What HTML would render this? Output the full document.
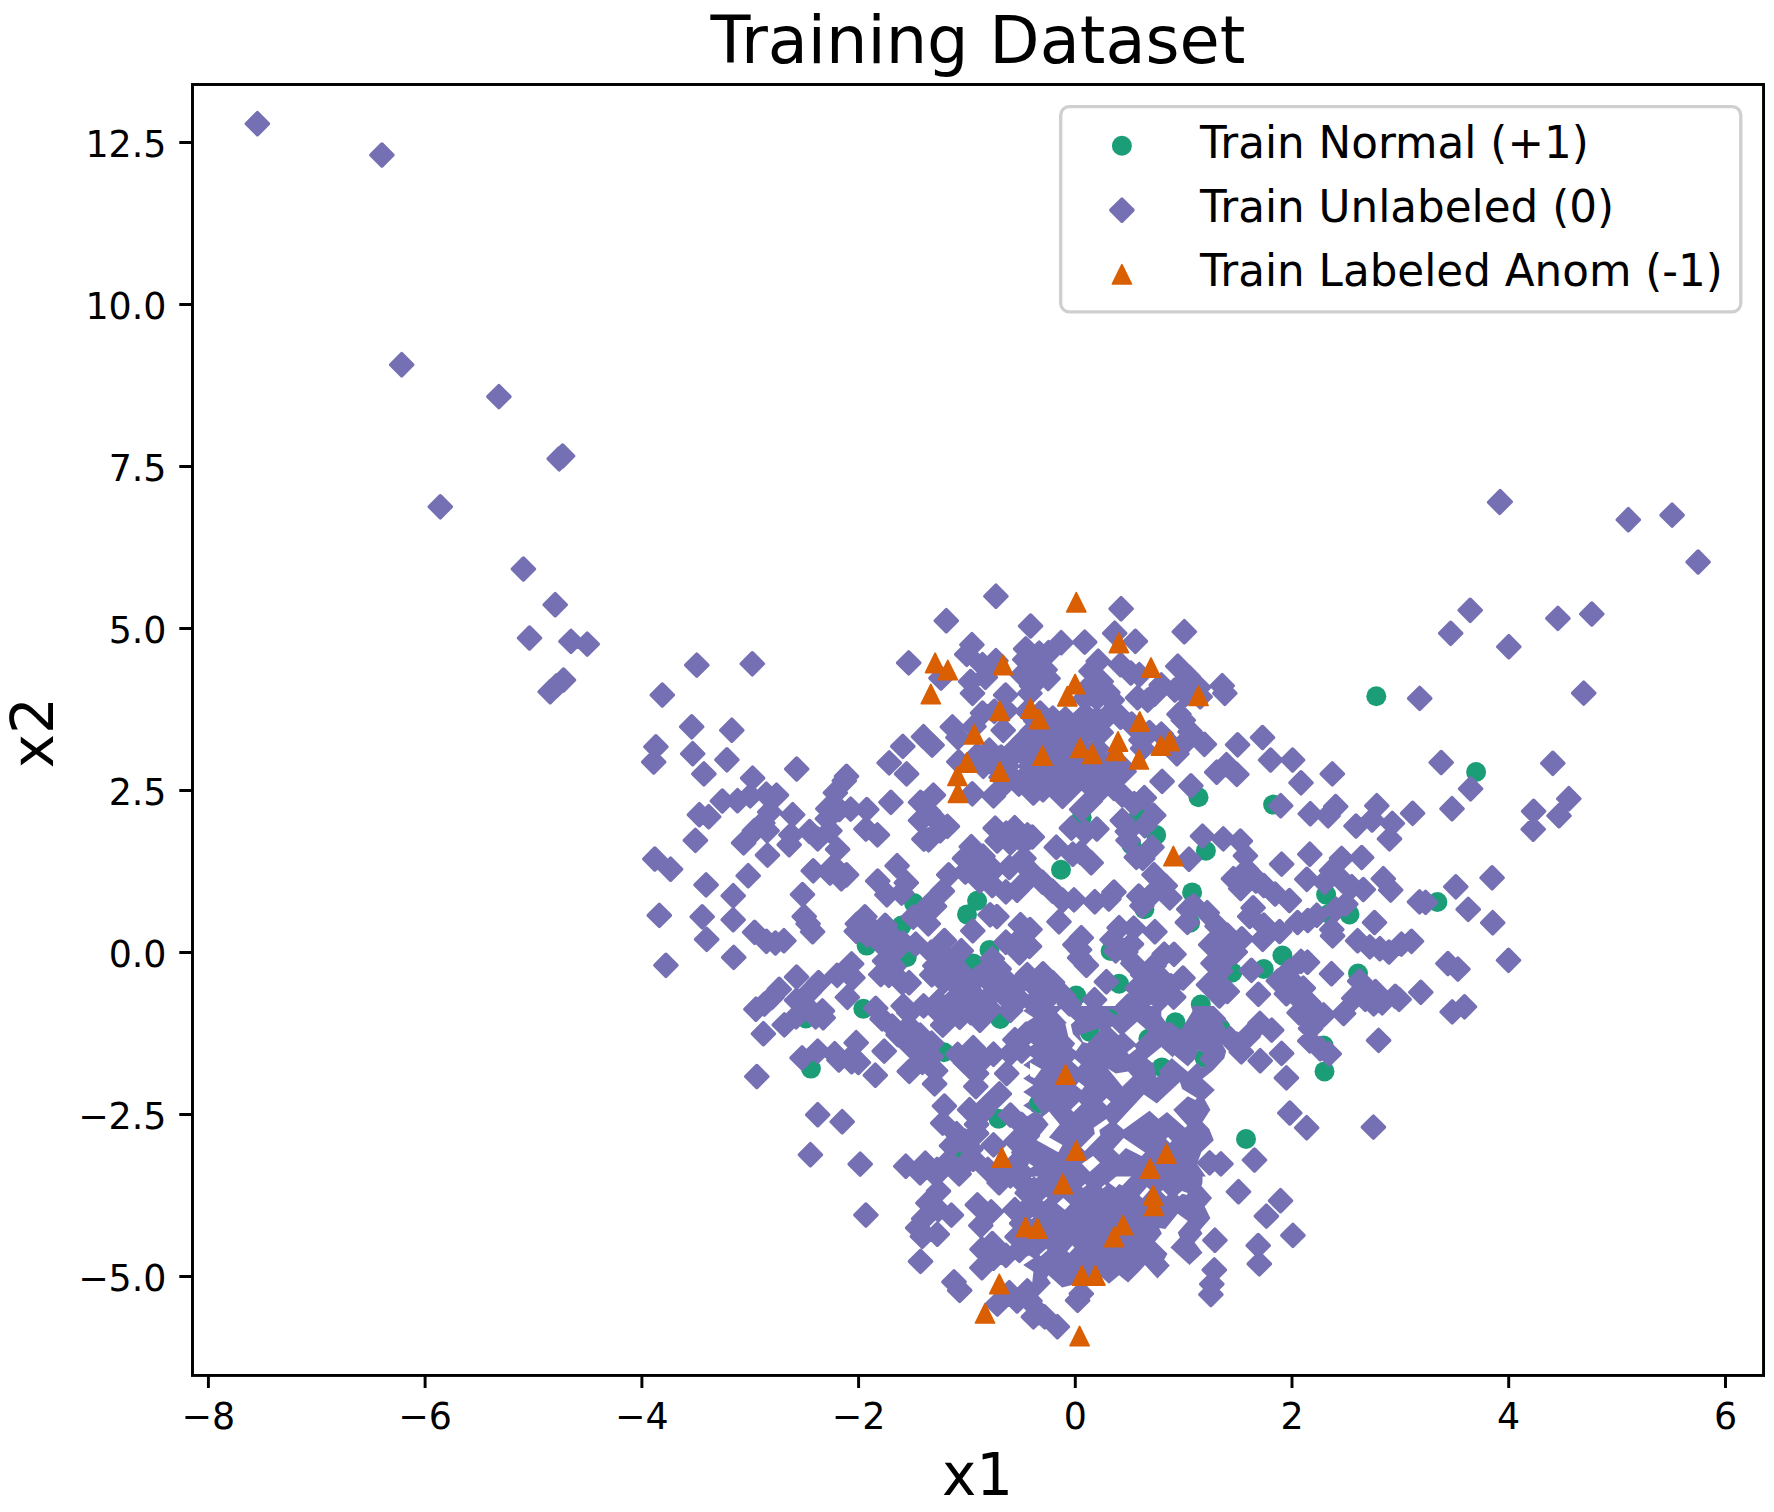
<!DOCTYPE html><html><head><meta charset="utf-8"><title>Training Dataset</title><style>html,body{margin:0;padding:0;background:#fff}</style></head><body><svg width="1774" height="1512" viewBox="0 0 1774 1512" style="display:block">
<rect width="1774" height="1512" fill="#fff"/>
<defs><clipPath id="c"><rect x="192.5" y="84.5" width="1571.05" height="1290.95"/></clipPath></defs>
<g clip-path="url(#c)">
<g fill="#1b9e77"><circle cx="1476.1" cy="772" r="10"/><circle cx="1198.5" cy="797.3" r="10"/><circle cx="1138.4" cy="817.2" r="10"/><circle cx="1156.2" cy="835" r="10"/><circle cx="1081.7" cy="817.2" r="10"/><circle cx="1376.3" cy="696.3" r="10"/><circle cx="1273.1" cy="804.6" r="10"/><circle cx="977.1" cy="900.8" r="10"/><circle cx="967" cy="914.4" r="10"/><circle cx="914" cy="903.1" r="10"/><circle cx="901.6" cy="925.6" r="10"/><circle cx="866.6" cy="945.6" r="10"/><circle cx="906.7" cy="957.2" r="10"/><circle cx="989.5" cy="949.9" r="10"/><circle cx="973.2" cy="963.4" r="10"/><circle cx="1061" cy="869.8" r="10"/><circle cx="1205.9" cy="850.7" r="10"/><circle cx="1192.1" cy="892.4" r="10"/><circle cx="1144.4" cy="909.3" r="10"/><circle cx="1190.1" cy="922.8" r="10"/><circle cx="1110.6" cy="951" r="10"/><circle cx="1119.1" cy="983.7" r="10"/><circle cx="1076.2" cy="995.5" r="10"/><circle cx="1200.8" cy="1004.5" r="10"/><circle cx="1131.5" cy="845" r="10"/><circle cx="1326.1" cy="894.6" r="10"/><circle cx="1349.5" cy="914.4" r="10"/><circle cx="1329" cy="913.8" r="10"/><circle cx="1282.4" cy="955.5" r="10"/><circle cx="1263.8" cy="969" r="10"/><circle cx="1232.3" cy="972.4" r="10"/><circle cx="1358" cy="973.5" r="10"/><circle cx="1437.4" cy="902" r="10"/><circle cx="810.9" cy="1068.6" r="10"/><circle cx="805.9" cy="1018.4" r="10"/><circle cx="863.3" cy="1008.8" r="10"/><circle cx="972.6" cy="1007.1" r="10"/><circle cx="1000.2" cy="1019" r="10"/><circle cx="943.9" cy="1052.2" r="10"/><circle cx="998.5" cy="1118.7" r="10"/><circle cx="956.3" cy="1158.8" r="10"/><circle cx="1175.4" cy="1022.3" r="10"/><circle cx="1161.9" cy="1067.4" r="10"/><circle cx="1204.7" cy="1057.9" r="10"/><circle cx="1220.5" cy="1028" r="10"/><circle cx="1089.8" cy="1031.9" r="10"/><circle cx="1108.9" cy="1017.3" r="10"/><circle cx="1148.4" cy="1038.7" r="10"/><circle cx="1038.5" cy="1104.1" r="10"/><circle cx="1324.5" cy="1071.4" r="10"/><circle cx="1323.6" cy="1045.5" r="10"/><circle cx="1246" cy="1139" r="10"/><circle cx="1181.1" cy="1174.9" r="10"/></g>
<mask id="m0" maskUnits="userSpaceOnUse" x="1010" y="986" width="240" height="210"><rect x="1010" y="986" width="240" height="210" fill="#fff"/><path d="M1057.1 1012.8L1061.6 1008.3L1075.1 1020.7L1069.5 1025.7zM1124.7 1033.1L1137.1 1021.8L1148.4 1031.4L1136 1043.8zM1161.3 1006L1192.3 1006L1192.3 1011.6L1181.1 1029.7L1169.8 1021.8L1166.4 1022.9L1161.3 1016.1zM1147.2 1058.4L1161.3 1047.1L1172.6 1057.3L1158.5 1071.4L1160.8 1073.6L1156.8 1077.6L1155.1 1073.6L1154 1062.4L1151.8 1062.4zM1198 1050L1203.6 1053.4L1199.1 1059L1205.9 1065.8L1201.4 1067.4L1195.2 1059zM1221.7 1020.7L1230 1025.2L1230 1031.9L1227.3 1031.9zM1079.6 1035.3L1097.6 1028.5L1099.9 1030.2L1087.5 1043.2L1083 1042.1zM1107.8 1009.4L1113.4 1009.4L1117.9 1013.9L1115.7 1015.6zM1030 1097.3L1041.3 1112L1040.1 1114.2L1030 1107.5zM1107.8 1068.6L1115.7 1073.6L1128.1 1071.4L1132.6 1076.5L1122.4 1086.6zM1116.8 1123.8L1143.9 1094.5L1156.8 1103.5L1179.9 1082.1L1182.2 1088.9L1196.9 1097.9L1195.2 1100.1L1187.8 1096.2L1173.2 1109.7L1187.3 1125.5L1185 1127.8L1167 1112L1158.5 1118.7L1149.5 1110.8L1123.6 1129.4zM1030 1062.4L1041.3 1069.1L1034.5 1078.2L1030 1075.9zM1102.7 1101.8L1106.7 1097.9L1110.6 1101.8L1106.7 1105.8zM1081.9 1163.8L1093.1 1155.9L1099.9 1162.7L1089.8 1171.7zM1113.4 1149.2L1123.6 1137.9L1145 1152.6L1141.6 1155.9L1125.8 1148.1L1119.1 1154.8z" fill="#000"/><path d="M1067.8 1022.9L1070.6 1035.3L1078.5 1043.2L1074 1049.4" stroke="#000" stroke-width="5.1" fill="none" stroke-linejoin="miter" stroke-linecap="butt"/><path d="M1167 1137.9L1170.9 1141.9" stroke="#000" stroke-width="2.8" fill="none" stroke-linejoin="miter" stroke-linecap="butt"/><path d="M1173.2 1056.7L1187.8 1069.1L1198 1059" stroke="#000" stroke-width="3.9" fill="none" stroke-linejoin="miter" stroke-linecap="butt"/><path d="M1073.4 1060.1L1079.6 1065.8" stroke="#000" stroke-width="3.9" fill="none" stroke-linejoin="miter" stroke-linecap="butt"/><path d="M1077.4 1083.8L1083 1088.3" stroke="#000" stroke-width="4.5" fill="none" stroke-linejoin="miter" stroke-linecap="butt"/><path d="M1072.3 1110.8L1080.2 1103" stroke="#000" stroke-width="3.4" fill="none" stroke-linejoin="miter" stroke-linecap="butt"/><path d="M1045.8 1114.2L1054.2 1124.4L1042.4 1138.5L1060.4 1148.6" stroke="#000" stroke-width="8.5" fill="none" stroke-linejoin="miter" stroke-linecap="butt"/><path d="M1107.8 1121L1096.5 1128.9L1097.6 1134.5L1083 1149.2" stroke="#000" stroke-width="5.1" fill="none" stroke-linejoin="miter" stroke-linecap="butt"/><path d="M1128.1 1053.4L1135.4 1047.7" stroke="#000" stroke-width="2.8" fill="none" stroke-linejoin="miter" stroke-linecap="butt"/><path d="M1111.2 1026.9L1119.1 1034.7" stroke="#000" stroke-width="1.7" fill="none" stroke-linejoin="miter" stroke-linecap="butt"/></mask>
<path d="M1030 1006L1213.9 1006L1225.6 1017.7L1229 1027.5L1229 1030.9L1230 1032L1230 1039.8L1221.7 1043.2L1226.2 1051.1L1224.3 1058.3L1212.6 1070.8L1202.5 1078.7L1214.9 1090L1204.7 1099.6L1210.4 1109.7L1202.5 1122.1L1209.3 1128.9L1213.8 1140.2L1201.4 1152L1199.1 1158.2L1196.9 1163.8L1205.9 1176.5L1030 1176.5L1023.2 1173.1L1033.4 1166.3L1023.2 1159.6L1033.4 1152.8L1023.2 1146L1033.4 1139.3L1023.2 1132.5L1033.4 1125.7L1023.2 1119L1033.4 1112.2L1023.2 1105.4L1033.4 1098.7L1023.2 1091.9L1033.4 1085.1L1023.2 1078.4L1033.4 1071.6L1023.2 1064.9L1033.4 1058.1L1023.2 1051.3L1033.4 1044.6L1023.2 1037.8L1033.4 1031L1023.2 1024.3L1033.4 1017.5L1023.2 1010.7z" fill="#7570b3" mask="url(#m0)"/>
<mask id="m1" maskUnits="userSpaceOnUse" x="1010" y="1156" width="240" height="210"><rect x="1010" y="1156" width="240" height="210" fill="#fff"/><path d="M1057.1 1203.6L1063.3 1198L1070 1204.2L1064.9 1209.8zM1108.9 1182.8L1116.8 1176L1131.5 1176L1122.4 1185.6L1119.1 1183.9L1115.7 1187.8zM1033.9 1176L1038.5 1176L1036.2 1178.3z" fill="#000"/><path d="M1141 1196.9L1148.4 1188.4" stroke="#000" stroke-width="3.9" fill="none" stroke-linejoin="miter" stroke-linecap="butt"/><path d="M1161.9 1190.7L1167 1195.7" stroke="#000" stroke-width="2.3" fill="none" stroke-linejoin="miter" stroke-linecap="butt"/><path d="M1178.3 1195.7L1182.2 1192.3L1187.3 1194" stroke="#000" stroke-width="2.3" fill="none" stroke-linejoin="miter" stroke-linecap="butt"/><path d="M1082.4 1187.3L1085.8 1184.5" stroke="#000" stroke-width="1.7" fill="none" stroke-linejoin="miter" stroke-linecap="butt"/><path d="M1102.2 1187.8L1105.5 1185" stroke="#000" stroke-width="1.7" fill="none" stroke-linejoin="miter" stroke-linecap="butt"/><path d="M1043 1200.8L1046.9 1197.4" stroke="#000" stroke-width="1.7" fill="none" stroke-linejoin="miter" stroke-linecap="butt"/><path d="M1040.1 1255.5L1046.9 1249.3" stroke="#000" stroke-width="1.7" fill="none" stroke-linejoin="miter" stroke-linecap="butt"/><path d="M1068.3 1252.1L1073.4 1246.5" stroke="#000" stroke-width="2.8" fill="none" stroke-linejoin="miter" stroke-linecap="butt"/></mask>
<path d="M1030 1176L1202.5 1176L1202.5 1182.8L1201.4 1186.1L1212.1 1198L1204.7 1206.4L1210.4 1218.3L1200.2 1230.1L1202.5 1233.5L1194.6 1242.5L1202.5 1252.7L1189.5 1265.1L1170.4 1247.6L1179.9 1237.4L1177.7 1232.4L1187.8 1221.1L1177.7 1213.8L1165.3 1229L1159.1 1227.9L1161.9 1233.5L1155.1 1241.4L1167.5 1253.8L1164.2 1259.4L1169.8 1265.6L1157.4 1278.6L1145 1265.1L1141 1269.6L1128.1 1282.5L1119.1 1275.2L1108.9 1283.7L1102.2 1277.5L1097.6 1284.2L1075.1 1284.2L1062.1 1287.6L1048.6 1275.2L1046.9 1277.5L1050.9 1283.1L1036.8 1297.2L1030 1302.3L1033.4 1271.8L1023.2 1265.1L1033.4 1258.3L1023.2 1251.5L1033.4 1244.8L1023.2 1238L1033.4 1231.2L1023.2 1224.5L1033.4 1217.7L1023.2 1210.9L1033.4 1204.2L1023.2 1197.4L1033.4 1190.7L1023.2 1183.9L1033.4 1177.1z" fill="#7570b3" mask="url(#m1)"/>
<path fill="#7570b3" stroke="#7570b3" stroke-width="3.66" stroke-linejoin="round" d="M257.4 112.8l10.9 10.9-10.9 10.9-10.9-10.9zM381.9 144.1l10.9 10.9-10.9 10.9-10.9-10.9zM401.7 353.8l10.9 10.9-10.9 10.9-10.9-10.9zM498.9 385.7l10.9 10.9-10.9 10.9-10.9-10.9zM559.2 447.9l10.9 10.9-10.9 10.9-10.9-10.9zM562.6 445.1l10.9 10.9-10.9 10.9-10.9-10.9zM440.3 495.9l10.9 10.9-10.9 10.9-10.9-10.9zM523.4 558.1l10.9 10.9-10.9 10.9-10.9-10.9zM555.2 593.8l10.9 10.9-10.9 10.9-10.9-10.9zM529.5 627.1l10.9 10.9-10.9 10.9-10.9-10.9zM571 630.5l10.9 10.9-10.9 10.9-10.9-10.9zM587.2 633.2l10.9 10.9-10.9 10.9-10.9-10.9zM563.5 669.1l10.9 10.9-10.9 10.9-10.9-10.9zM556.4 675l10.9 10.9-10.9 10.9-10.9-10.9zM550.2 680.8l10.9 10.9-10.9 10.9-10.9-10.9zM662.3 684.1l10.9 10.9-10.9 10.9-10.9-10.9zM696.8 654.2l10.9 10.9-10.9 10.9-10.9-10.9zM691.7 715.9l10.9 10.9-10.9 10.9-10.9-10.9zM1499.6 491.4l10.9 10.9-10.9 10.9-10.9-10.9zM1500.2 490.8l10.9 10.9-10.9 10.9-10.9-10.9zM1628.3 508.8l10.9 10.9-10.9 10.9-10.9-10.9zM1672.1 504.2l10.9 10.9-10.9 10.9-10.9-10.9zM1698.1 551.1l10.9 10.9-10.9 10.9-10.9-10.9zM1470.2 599.4l10.9 10.9-10.9 10.9-10.9-10.9zM1450.7 622.4l10.9 10.9-10.9 10.9-10.9-10.9zM1557.9 607.5l10.9 10.9-10.9 10.9-10.9-10.9zM1591.8 603.1l10.9 10.9-10.9 10.9-10.9-10.9zM1508.8 635.8l10.9 10.9-10.9 10.9-10.9-10.9zM1419.7 687.5l10.9 10.9-10.9 10.9-10.9-10.9zM1583.7 682.2l10.9 10.9-10.9 10.9-10.9-10.9zM1441.2 751.6l10.9 10.9-10.9 10.9-10.9-10.9zM1552.8 752.4l10.9 10.9-10.9 10.9-10.9-10.9zM752.3 652.9l10.9 10.9-10.9 10.9-10.9-10.9zM908.7 652l10.9 10.9-10.9 10.9-10.9-10.9zM731.8 719.3l10.9 10.9-10.9 10.9-10.9-10.9zM655.9 735.9l10.9 10.9-10.9 10.9-10.9-10.9zM653.7 751.1l10.9 10.9-10.9 10.9-10.9-10.9zM692.7 742.8l10.9 10.9-10.9 10.9-10.9-10.9zM726.9 748.9l10.9 10.9-10.9 10.9-10.9-10.9zM703.9 763l10.9 10.9-10.9 10.9-10.9-10.9zM752.6 767.2l10.9 10.9-10.9 10.9-10.9-10.9zM796.7 758.1l10.9 10.9-10.9 10.9-10.9-10.9zM995.9 585.3l10.9 10.9-10.9 10.9-10.9-10.9zM946.3 609.8l10.9 10.9-10.9 10.9-10.9-10.9zM1030.6 615.1l10.9 10.9-10.9 10.9-10.9-10.9zM971.9 633.8l10.9 10.9-10.9 10.9-10.9-10.9zM966.8 643.5l10.9 10.9-10.9 10.9-10.9-10.9zM995.9 649.8l10.9 10.9-10.9 10.9-10.9-10.9zM982.5 653.8l10.9 10.9-10.9 10.9-10.9-10.9zM970.6 670.6l10.9 10.9-10.9 10.9-10.9-10.9zM972.5 682.4l10.9 10.9-10.9 10.9-10.9-10.9zM941 667.2l10.9 10.9-10.9 10.9-10.9-10.9zM985.4 666.4l10.9 10.9-10.9 10.9-10.9-10.9zM1025.7 638l10.9 10.9-10.9 10.9-10.9-10.9zM1024.8 648.6l10.9 10.9-10.9 10.9-10.9-10.9zM1061.2 631.8l10.9 10.9-10.9 10.9-10.9-10.9zM1039.2 642.2l10.9 10.9-10.9 10.9-10.9-10.9zM1048.5 641.8l10.9 10.9-10.9 10.9-10.9-10.9zM1048.1 667.6l10.9 10.9-10.9 10.9-10.9-10.9zM1045.1 658.8l10.9 10.9-10.9 10.9-10.9-10.9zM1005.6 684.1l10.9 10.9-10.9 10.9-10.9-10.9zM1022.3 663.8l10.9 10.9-10.9 10.9-10.9-10.9zM1031.6 674.8l10.9 10.9-10.9 10.9-10.9-10.9zM1035 653.8l10.9 10.9-10.9 10.9-10.9-10.9zM1029.9 682.4l10.9 10.9-10.9 10.9-10.9-10.9zM1121.1 597.8l10.9 10.9-10.9 10.9-10.9-10.9zM1184.3 620.8l10.9 10.9-10.9 10.9-10.9-10.9zM1114.7 622.3l10.9 10.9-10.9 10.9-10.9-10.9zM1135.4 630.4l10.9 10.9-10.9 10.9-10.9-10.9zM1084.7 631.2l10.9 10.9-10.9 10.9-10.9-10.9zM1098.2 650.3l10.9 10.9-10.9 10.9-10.9-10.9zM1120.6 653.8l10.9 10.9-10.9 10.9-10.9-10.9zM1177.8 655.3l10.9 10.9-10.9 10.9-10.9-10.9zM1188.4 665.9l10.9 10.9-10.9 10.9-10.9-10.9zM1198.5 676.5l10.9 10.9-10.9 10.9-10.9-10.9zM1222.2 674.8l10.9 10.9-10.9 10.9-10.9-10.9zM1224.8 682.4l10.9 10.9-10.9 10.9-10.9-10.9zM1091 660.4l10.9 10.9-10.9 10.9-10.9-10.9zM1101.2 670.6l10.9 10.9-10.9 10.9-10.9-10.9zM1107.9 681.6l10.9 10.9-10.9 10.9-10.9-10.9zM1090.2 674.8l10.9 10.9-10.9 10.9-10.9-10.9zM1096.9 687.5l10.9 10.9-10.9 10.9-10.9-10.9zM1085.1 687.5l10.9 10.9-10.9 10.9-10.9-10.9zM1112.2 689.2l10.9 10.9-10.9 10.9-10.9-10.9zM1130.8 662.1l10.9 10.9-10.9 10.9-10.9-10.9zM1139.3 663.8l10.9 10.9-10.9 10.9-10.9-10.9zM1137.6 686.8l10.9 10.9-10.9 10.9-10.9-10.9zM1147.7 689.2l10.9 10.9-10.9 10.9-10.9-10.9zM1161.3 674l10.9 10.9-10.9 10.9-10.9-10.9zM1154.5 683.3l10.9 10.9-10.9 10.9-10.9-10.9zM1174.8 679.1l10.9 10.9-10.9 10.9-10.9-10.9zM1185.8 683.3l10.9 10.9-10.9 10.9-10.9-10.9zM1184.1 674.8l10.9 10.9-10.9 10.9-10.9-10.9zM1200.2 685.8l10.9 10.9-10.9 10.9-10.9-10.9zM952.4 716l10.9 10.9-10.9 10.9-10.9-10.9zM957.9 726.6l10.9 10.9-10.9 10.9-10.9-10.9zM974 715.6l10.9 10.9-10.9 10.9-10.9-10.9zM932.1 734.2l10.9 10.9-10.9 10.9-10.9-10.9zM1003.2 719.4l10.9 10.9-10.9 10.9-10.9-10.9zM989.3 739.3l10.9 10.9-10.9 10.9-10.9-10.9zM1014.7 738.5l10.9 10.9-10.9 10.9-10.9-10.9zM1023.1 730l10.9 10.9-10.9 10.9-10.9-10.9zM1027.4 725.8l10.9 10.9-10.9 10.9-10.9-10.9zM1031.6 720.8l10.9 10.9-10.9 10.9-10.9-10.9zM1044.3 724.9l10.9 10.9-10.9 10.9-10.9-10.9zM1057 718.2l10.9 10.9-10.9 10.9-10.9-10.9zM1069.7 722.4l10.9 10.9-10.9 10.9-10.9-10.9zM1052.8 707.2l10.9 10.9-10.9 10.9-10.9-10.9zM1065.4 708l10.9 10.9-10.9 10.9-10.9-10.9zM1076.5 712.2l10.9 10.9-10.9 10.9-10.9-10.9zM1035.8 709.8l10.9 10.9-10.9 10.9-10.9-10.9zM982.5 702.1l10.9 10.9-10.9 10.9-10.9-10.9zM994.3 700.4l10.9 10.9-10.9 10.9-10.9-10.9zM1006.2 699.5l10.9 10.9-10.9 10.9-10.9-10.9zM1027.4 700.4l10.9 10.9-10.9 10.9-10.9-10.9zM1040.1 702.1l10.9 10.9-10.9 10.9-10.9-10.9zM977.4 744.4l10.9 10.9-10.9 10.9-10.9-10.9zM989.3 744.4l10.9 10.9-10.9 10.9-10.9-10.9zM1001.1 746.1l10.9 10.9-10.9 10.9-10.9-10.9zM1013 744.4l10.9 10.9-10.9 10.9-10.9-10.9zM1024.8 744.4l10.9 10.9-10.9 10.9-10.9-10.9zM1036.7 744.4l10.9 10.9-10.9 10.9-10.9-10.9zM1048.5 744.4l10.9 10.9-10.9 10.9-10.9-10.9zM1060.4 744.4l10.9 10.9-10.9 10.9-10.9-10.9zM1072.2 744.4l10.9 10.9-10.9 10.9-10.9-10.9zM1052.8 733.4l10.9 10.9-10.9 10.9-10.9-10.9zM1065.4 733.4l10.9 10.9-10.9 10.9-10.9-10.9zM1076.5 732.6l10.9 10.9-10.9 10.9-10.9-10.9zM1040.1 735.1l10.9 10.9-10.9 10.9-10.9-10.9zM983.3 755.4l10.9 10.9-10.9 10.9-10.9-10.9zM995.2 755.4l10.9 10.9-10.9 10.9-10.9-10.9zM1007 755.4l10.9 10.9-10.9 10.9-10.9-10.9zM1030.7 755.4l10.9 10.9-10.9 10.9-10.9-10.9zM1042.6 755.4l10.9 10.9-10.9 10.9-10.9-10.9zM1054.4 755.4l10.9 10.9-10.9 10.9-10.9-10.9zM1066.3 755.4l10.9 10.9-10.9 10.9-10.9-10.9zM1078.1 755.4l10.9 10.9-10.9 10.9-10.9-10.9zM1001.1 766.4l10.9 10.9-10.9 10.9-10.9-10.9zM1013 767.3l10.9 10.9-10.9 10.9-10.9-10.9zM1024.8 766.4l10.9 10.9-10.9 10.9-10.9-10.9zM1036.7 766.4l10.9 10.9-10.9 10.9-10.9-10.9zM1048.5 766.4l10.9 10.9-10.9 10.9-10.9-10.9zM1060.4 766.4l10.9 10.9-10.9 10.9-10.9-10.9zM1072.2 764.8l10.9 10.9-10.9 10.9-10.9-10.9zM972.3 782.9l10.9 10.9-10.9 10.9-10.9-10.9zM993.5 785l10.9 10.9-10.9 10.9-10.9-10.9zM1006.2 771.5l10.9 10.9-10.9 10.9-10.9-10.9zM1018.9 773.2l10.9 10.9-10.9 10.9-10.9-10.9zM1033.3 782.1l10.9 10.9-10.9 10.9-10.9-10.9zM1043 778.8l10.9 10.9-10.9 10.9-10.9-10.9zM1062.5 785.5l10.9 10.9-10.9 10.9-10.9-10.9zM1052.8 775.8l10.9 10.9-10.9 10.9-10.9-10.9zM1069.7 778.3l10.9 10.9-10.9 10.9-10.9-10.9zM933.4 784.2l10.9 10.9-10.9 10.9-10.9-10.9zM947.4 815.5l10.9 10.9-10.9 10.9-10.9-10.9zM932.5 805.4l10.9 10.9-10.9 10.9-10.9-10.9zM940.2 819.8l10.9 10.9-10.9 10.9-10.9-10.9zM958.8 750.8l10.9 10.9-10.9 10.9-10.9-10.9zM995.2 817.2l10.9 10.9-10.9 10.9-10.9-10.9zM1014.7 816.8l10.9 10.9-10.9 10.9-10.9-10.9zM1006.2 822.3l10.9 10.9-10.9 10.9-10.9-10.9zM1027.4 824l10.9 10.9-10.9 10.9-10.9-10.9zM1071.4 817.2l10.9 10.9-10.9 10.9-10.9-10.9zM1162.1 770.5l10.9 10.9-10.9 10.9-10.9-10.9zM1190.9 774.9l10.9 10.9-10.9 10.9-10.9-10.9zM1216.7 761.3l10.9 10.9-10.9 10.9-10.9-10.9zM1226.5 753.8l10.9 10.9-10.9 10.9-10.9-10.9zM1204.4 733.4l10.9 10.9-10.9 10.9-10.9-10.9zM1183.3 709.3l10.9 10.9-10.9 10.9-10.9-10.9zM1179 703.3l10.9 10.9-10.9 10.9-10.9-10.9zM1161.3 723.2l10.9 10.9-10.9 10.9-10.9-10.9zM1176.9 742.8l10.9 10.9-10.9 10.9-10.9-10.9zM1190.1 720.8l10.9 10.9-10.9 10.9-10.9-10.9zM1185.8 730.9l10.9 10.9-10.9 10.9-10.9-10.9zM1169.7 732.6l10.9 10.9-10.9 10.9-10.9-10.9zM1085.1 703.8l10.9 10.9-10.9 10.9-10.9-10.9zM1096.9 708l10.9 10.9-10.9 10.9-10.9-10.9zM1108.8 703.8l10.9 10.9-10.9 10.9-10.9-10.9zM1120.6 706.3l10.9 10.9-10.9 10.9-10.9-10.9zM1131.6 713.1l10.9 10.9-10.9 10.9-10.9-10.9zM1088.5 719l10.9 10.9-10.9 10.9-10.9-10.9zM1101.2 721.6l10.9 10.9-10.9 10.9-10.9-10.9zM1141 729.2l10.9 10.9-10.9 10.9-10.9-10.9zM1149.4 721.6l10.9 10.9-10.9 10.9-10.9-10.9zM1081.7 724.9l10.9 10.9-10.9 10.9-10.9-10.9zM1096.9 737.6l10.9 10.9-10.9 10.9-10.9-10.9zM1142.6 737.6l10.9 10.9-10.9 10.9-10.9-10.9zM1085.1 749.5l10.9 10.9-10.9 10.9-10.9-10.9zM1096.9 747.8l10.9 10.9-10.9 10.9-10.9-10.9zM1109.6 752l10.9 10.9-10.9 10.9-10.9-10.9zM1122.3 756.3l10.9 10.9-10.9 10.9-10.9-10.9zM1088.5 760.5l10.9 10.9-10.9 10.9-10.9-10.9zM1101.2 764.8l10.9 10.9-10.9 10.9-10.9-10.9zM1113.9 769l10.9 10.9-10.9 10.9-10.9-10.9zM1124 760.5l10.9 10.9-10.9 10.9-10.9-10.9zM1088.5 773.2l10.9 10.9-10.9 10.9-10.9-10.9zM1099.5 780l10.9 10.9-10.9 10.9-10.9-10.9zM1113.9 777.4l10.9 10.9-10.9 10.9-10.9-10.9zM1090.2 790.1l10.9 10.9-10.9 10.9-10.9-10.9zM1081.7 798.6l10.9 10.9-10.9 10.9-10.9-10.9zM1122.3 784.2l10.9 10.9-10.9 10.9-10.9-10.9zM1144.3 786.8l10.9 10.9-10.9 10.9-10.9-10.9zM1134.2 792.8l10.9 10.9-10.9 10.9-10.9-10.9zM1122.3 809.6l10.9 10.9-10.9 10.9-10.9-10.9zM1153.7 804.5l10.9 10.9-10.9 10.9-10.9-10.9zM1144.8 814.8l10.9 10.9-10.9 10.9-10.9-10.9zM1096.9 818.1l10.9 10.9-10.9 10.9-10.9-10.9zM1085.1 821.4l10.9 10.9-10.9 10.9-10.9-10.9zM1127.4 820.6l10.9 10.9-10.9 10.9-10.9-10.9zM722.3 790.1l10.9 10.9-10.9 10.9-10.9-10.9zM737.5 789.8l10.9 10.9-10.9 10.9-10.9-10.9zM750.2 785l10.9 10.9-10.9 10.9-10.9-10.9zM699.4 803.8l10.9 10.9-10.9 10.9-10.9-10.9zM708.7 805.8l10.9 10.9-10.9 10.9-10.9-10.9zM766.3 783.3l10.9 10.9-10.9 10.9-10.9-10.9zM776.5 784.2l10.9 10.9-10.9 10.9-10.9-10.9zM769.7 801.1l10.9 10.9-10.9 10.9-10.9-10.9zM762.9 812.1l10.9 10.9-10.9 10.9-10.9-10.9zM754.4 819.8l10.9 10.9-10.9 10.9-10.9-10.9zM767.1 819.8l10.9 10.9-10.9 10.9-10.9-10.9zM846.5 765.4l10.9 10.9-10.9 10.9-10.9-10.9zM844.3 769.8l10.9 10.9-10.9 10.9-10.9-10.9zM835.4 781.8l10.9 10.9-10.9 10.9-10.9-10.9zM827.8 797.8l10.9 10.9-10.9 10.9-10.9-10.9zM827.4 807.9l10.9 10.9-10.9 10.9-10.9-10.9zM839.3 798.6l10.9 10.9-10.9 10.9-10.9-10.9zM850.7 798.2l10.9 10.9-10.9 10.9-10.9-10.9zM866.8 798.6l10.9 10.9-10.9 10.9-10.9-10.9zM890.9 791.4l10.9 10.9-10.9 10.9-10.9-10.9zM902.8 735.5l10.9 10.9-10.9 10.9-10.9-10.9zM889.2 752l10.9 10.9-10.9 10.9-10.9-10.9zM906.6 763l10.9 10.9-10.9 10.9-10.9-10.9zM923.5 725.8l10.9 10.9-10.9 10.9-10.9-10.9zM792.7 803.8l10.9 10.9-10.9 10.9-10.9-10.9zM809.6 820.6l10.9 10.9-10.9 10.9-10.9-10.9zM791 824l10.9 10.9-10.9 10.9-10.9-10.9zM829.9 819.8l10.9 10.9-10.9 10.9-10.9-10.9zM865.9 818.1l10.9 10.9-10.9 10.9-10.9-10.9zM877.4 824l10.9 10.9-10.9 10.9-10.9-10.9zM920.5 791.4l10.9 10.9-10.9 10.9-10.9-10.9zM920.5 809.6l10.9 10.9-10.9 10.9-10.9-10.9zM929 801.1l10.9 10.9-10.9 10.9-10.9-10.9zM1262.5 726.6l10.9 10.9-10.9 10.9-10.9-10.9zM1237.6 733.9l10.9 10.9-10.9 10.9-10.9-10.9zM1270.6 749.1l10.9 10.9-10.9 10.9-10.9-10.9zM1292.6 749.1l10.9 10.9-10.9 10.9-10.9-10.9zM1236.8 763.5l10.9 10.9-10.9 10.9-10.9-10.9zM1301 771.9l10.9 10.9-10.9 10.9-10.9-10.9zM1332.3 763l10.9 10.9-10.9 10.9-10.9-10.9zM1470.6 777.9l10.9 10.9-10.9 10.9-10.9-10.9zM1280.7 794.8l10.9 10.9-10.9 10.9-10.9-10.9zM1310.3 802.8l10.9 10.9-10.9 10.9-10.9-10.9zM1335.7 795.6l10.9 10.9-10.9 10.9-10.9-10.9zM1328.1 804.9l10.9 10.9-10.9 10.9-10.9-10.9zM1376.8 794.8l10.9 10.9-10.9 10.9-10.9-10.9zM1372.1 809.1l10.9 10.9-10.9 10.9-10.9-10.9zM1356 815.1l10.9 10.9-10.9 10.9-10.9-10.9zM1392.3 812.5l10.9 10.9-10.9 10.9-10.9-10.9zM1412.6 802.4l10.9 10.9-10.9 10.9-10.9-10.9zM1452 797.8l10.9 10.9-10.9 10.9-10.9-10.9zM1533.6 800.4l10.9 10.9-10.9 10.9-10.9-10.9zM1533.2 818.3l10.9 10.9-10.9 10.9-10.9-10.9zM1568.8 787.8l10.9 10.9-10.9 10.9-10.9-10.9zM1559 804.8l10.9 10.9-10.9 10.9-10.9-10.9zM1492.1 866.9l10.9 10.9-10.9 10.9-10.9-10.9zM1455.8 875.9l10.9 10.9-10.9 10.9-10.9-10.9zM1468.2 898.5l10.9 10.9-10.9 10.9-10.9-10.9zM1492.7 911.8l10.9 10.9-10.9 10.9-10.9-10.9zM1508.5 949.4l10.9 10.9-10.9 10.9-10.9-10.9zM1447.9 952.6l10.9 10.9-10.9 10.9-10.9-10.9zM1457.9 958.2l10.9 10.9-10.9 10.9-10.9-10.9zM1464.5 995.9l10.9 10.9-10.9 10.9-10.9-10.9zM1452.2 1001l10.9 10.9-10.9 10.9-10.9-10.9zM695.4 829.5l10.9 10.9-10.9 10.9-10.9-10.9zM654.8 848.1l10.9 10.9-10.9 10.9-10.9-10.9zM670.6 858.3l10.9 10.9-10.9 10.9-10.9-10.9zM743.6 832l10.9 10.9-10.9 10.9-10.9-10.9zM767.5 844.2l10.9 10.9-10.9 10.9-10.9-10.9zM789.2 833.8l10.9 10.9-10.9 10.9-10.9-10.9zM817.7 828l10.9 10.9-10.9 10.9-10.9-10.9zM748.2 864.8l10.9 10.9-10.9 10.9-10.9-10.9zM813.2 859.9l10.9 10.9-10.9 10.9-10.9-10.9zM706.1 874l10.9 10.9-10.9 10.9-10.9-10.9zM733.2 884.8l10.9 10.9-10.9 10.9-10.9-10.9zM802.5 883.6l10.9 10.9-10.9 10.9-10.9-10.9zM659.3 904.5l10.9 10.9-10.9 10.9-10.9-10.9zM702.2 905.9l10.9 10.9-10.9 10.9-10.9-10.9zM733.2 908.8l10.9 10.9-10.9 10.9-10.9-10.9zM804.2 905.6l10.9 10.9-10.9 10.9-10.9-10.9zM812.6 920.8l10.9 10.9-10.9 10.9-10.9-10.9zM808.1 912.9l10.9 10.9-10.9 10.9-10.9-10.9zM706.7 928.5l10.9 10.9-10.9 10.9-10.9-10.9zM754.6 921.4l10.9 10.9-10.9 10.9-10.9-10.9zM766.4 930.4l10.9 10.9-10.9 10.9-10.9-10.9zM775.4 932.1l10.9 10.9-10.9 10.9-10.9-10.9zM783.9 929.8l10.9 10.9-10.9 10.9-10.9-10.9zM733.7 946.5l10.9 10.9-10.9 10.9-10.9-10.9zM665.9 954.4l10.9 10.9-10.9 10.9-10.9-10.9zM837.6 838.5l10.9 10.9-10.9 10.9-10.9-10.9zM846.6 863.9l10.9 10.9-10.9 10.9-10.9-10.9zM841.3 867.8l10.9 10.9-10.9 10.9-10.9-10.9zM833.4 855.4l10.9 10.9-10.9 10.9-10.9-10.9zM830 862.2l10.9 10.9-10.9 10.9-10.9-10.9zM923.9 828.2l10.9 10.9-10.9 10.9-10.9-10.9zM928.6 828.9l10.9 10.9-10.9 10.9-10.9-10.9zM897.1 854.8l10.9 10.9-10.9 10.9-10.9-10.9zM877.7 870.1l10.9 10.9-10.9 10.9-10.9-10.9zM906.3 871.8l10.9 10.9-10.9 10.9-10.9-10.9zM886.9 883.9l10.9 10.9-10.9 10.9-10.9-10.9zM901.6 882.2l10.9 10.9-10.9 10.9-10.9-10.9zM948.7 863.9l10.9 10.9-10.9 10.9-10.9-10.9zM964.5 847.5l10.9 10.9-10.9 10.9-10.9-10.9zM971.3 835.8l10.9 10.9-10.9 10.9-10.9-10.9zM983 845.3l10.9 10.9-10.9 10.9-10.9-10.9zM997.2 830.1l10.9 10.9-10.9 10.9-10.9-10.9zM1010.4 831.8l10.9 10.9-10.9 10.9-10.9-10.9zM1023.9 831.8l10.9 10.9-10.9 10.9-10.9-10.9zM965.3 861.1l10.9 10.9-10.9 10.9-10.9-10.9zM979.9 858.8l10.9 10.9-10.9 10.9-10.9-10.9zM993.5 858.8l10.9 10.9-10.9 10.9-10.9-10.9zM1009.3 856.6l10.9 10.9-10.9 10.9-10.9-10.9zM1023.9 847.5l10.9 10.9-10.9 10.9-10.9-10.9zM992.3 874.6l10.9 10.9-10.9 10.9-10.9-10.9zM1005.9 881l10.9 10.9-10.9 10.9-10.9-10.9zM1017.1 879.3l10.9 10.9-10.9 10.9-10.9-10.9zM1028.4 867.8l10.9 10.9-10.9 10.9-10.9-10.9zM979.9 870.1l10.9 10.9-10.9 10.9-10.9-10.9zM942.4 880.2l10.9 10.9-10.9 10.9-10.9-10.9zM931.5 891.5l10.9 10.9-10.9 10.9-10.9-10.9zM934.5 895.5l10.9 10.9-10.9 10.9-10.9-10.9zM920.2 902.8l10.9 10.9-10.9 10.9-10.9-10.9zM928.3 912.9l10.9 10.9-10.9 10.9-10.9-10.9zM913.2 906.2l10.9 10.9-10.9 10.9-10.9-10.9zM864.9 905.9l10.9 10.9-10.9 10.9-10.9-10.9zM857.4 912.9l10.9 10.9-10.9 10.9-10.9-10.9zM856.3 920.3l10.9 10.9-10.9 10.9-10.9-10.9zM885.2 914.4l10.9 10.9-10.9 10.9-10.9-10.9zM875.1 920.8l10.9 10.9-10.9 10.9-10.9-10.9zM867.2 924.2l10.9 10.9-10.9 10.9-10.9-10.9zM880.7 932.1l10.9 10.9-10.9 10.9-10.9-10.9zM893.1 926.5l10.9 10.9-10.9 10.9-10.9-10.9zM903.3 932.1l10.9 10.9-10.9 10.9-10.9-10.9zM915.7 933.2l10.9 10.9-10.9 10.9-10.9-10.9zM944.4 929.6l10.9 10.9-10.9 10.9-10.9-10.9zM961.3 939.8l10.9 10.9-10.9 10.9-10.9-10.9zM931.5 941.1l10.9 10.9-10.9 10.9-10.9-10.9zM945 944.5l10.9 10.9-10.9 10.9-10.9-10.9zM954 953.5l10.9 10.9-10.9 10.9-10.9-10.9zM934.8 954.8l10.9 10.9-10.9 10.9-10.9-10.9zM948.4 963.8l10.9 10.9-10.9 10.9-10.9-10.9zM909.1 971.8l10.9 10.9-10.9 10.9-10.9-10.9zM902.2 971.6l10.9 10.9-10.9 10.9-10.9-10.9zM931.8 963.8l10.9 10.9-10.9 10.9-10.9-10.9zM943.9 970.4l10.9 10.9-10.9 10.9-10.9-10.9zM965.3 965.9l10.9 10.9-10.9 10.9-10.9-10.9zM977.1 967.1l10.9 10.9-10.9 10.9-10.9-10.9zM959.7 977.2l10.9 10.9-10.9 10.9-10.9-10.9zM970.9 980.6l10.9 10.9-10.9 10.9-10.9-10.9zM923.6 995l10.9 10.9-10.9 10.9-10.9-10.9zM938.2 990.8l10.9 10.9-10.9 10.9-10.9-10.9zM954 988.5l10.9 10.9-10.9 10.9-10.9-10.9zM990.1 903.9l10.9 10.9-10.9 10.9-10.9-10.9zM996.9 905.6l10.9 10.9-10.9 10.9-10.9-10.9zM972.8 919.8l10.9 10.9-10.9 10.9-10.9-10.9zM1020.5 913.8l10.9 10.9-10.9 10.9-10.9-10.9zM1005.9 931.3l10.9 10.9-10.9 10.9-10.9-10.9zM1019.4 941.9l10.9 10.9-10.9 10.9-10.9-10.9zM1021.7 926.5l10.9 10.9-10.9 10.9-10.9-10.9zM1029.5 935.5l10.9 10.9-10.9 10.9-10.9-10.9zM992.3 947.8l10.9 10.9-10.9 10.9-10.9-10.9zM985.6 960.3l10.9 10.9-10.9 10.9-10.9-10.9zM999.1 958l10.9 10.9-10.9 10.9-10.9-10.9zM1005.9 969.3l10.9 10.9-10.9 10.9-10.9-10.9zM993.5 974.9l10.9 10.9-10.9 10.9-10.9-10.9zM1017.1 974.9l10.9 10.9-10.9 10.9-10.9-10.9zM1027.3 963.8l10.9 10.9-10.9 10.9-10.9-10.9zM1004.7 985.1l10.9 10.9-10.9 10.9-10.9-10.9zM1019.4 988.5l10.9 10.9-10.9 10.9-10.9-10.9zM987.8 987.3l10.9 10.9-10.9 10.9-10.9-10.9zM976.6 991.9l10.9 10.9-10.9 10.9-10.9-10.9zM1032.3 826.1l10.9 10.9-10.9 10.9-10.9-10.9zM1056.3 836.3l10.9 10.9-10.9 10.9-10.9-10.9zM1072.8 843.3l10.9 10.9-10.9 10.9-10.9-10.9zM1091.2 851.8l10.9 10.9-10.9 10.9-10.9-10.9zM1080.7 841.9l10.9 10.9-10.9 10.9-10.9-10.9zM1031.1 861.1l10.9 10.9-10.9 10.9-10.9-10.9zM1042.4 871.2l10.9 10.9-10.9 10.9-10.9-10.9zM1052.5 880.2l10.9 10.9-10.9 10.9-10.9-10.9zM1062.7 889.3l10.9 10.9-10.9 10.9-10.9-10.9zM1074 889l10.9 10.9-10.9 10.9-10.9-10.9zM1094.8 890.8l10.9 10.9-10.9 10.9-10.9-10.9zM1114 881.1l10.9 10.9-10.9 10.9-10.9-10.9zM1108.9 888.1l10.9 10.9-10.9 10.9-10.9-10.9zM1138.8 885.1l10.9 10.9-10.9 10.9-10.9-10.9zM1136.3 846.4l10.9 10.9-10.9 10.9-10.9-10.9zM1128.1 829.5l10.9 10.9-10.9 10.9-10.9-10.9zM1152 836.3l10.9 10.9-10.9 10.9-10.9-10.9zM1142.7 847.5l10.9 10.9-10.9 10.9-10.9-10.9zM1154 863.8l10.9 10.9-10.9 10.9-10.9-10.9zM1165.3 874.9l10.9 10.9-10.9 10.9-10.9-10.9zM1169.8 887l10.9 10.9-10.9 10.9-10.9-10.9zM1157.4 878l10.9 10.9-10.9 10.9-10.9-10.9zM1142 894.9l10.9 10.9-10.9 10.9-10.9-10.9zM1154 881.4l10.9 10.9-10.9 10.9-10.9-10.9zM1189 848.3l10.9 10.9-10.9 10.9-10.9-10.9zM1202.5 825.2l10.9 10.9-10.9 10.9-10.9-10.9zM1223.3 828l10.9 10.9-10.9 10.9-10.9-10.9zM1194 894.8l10.9 10.9-10.9 10.9-10.9-10.9zM1188.7 898.3l10.9 10.9-10.9 10.9-10.9-10.9zM1207.2 901.8l10.9 10.9-10.9 10.9-10.9-10.9zM1187.4 911.5l10.9 10.9-10.9 10.9-10.9-10.9zM1217.1 915.2l10.9 10.9-10.9 10.9-10.9-10.9zM1227.3 924.2l10.9 10.9-10.9 10.9-10.9-10.9zM1210.7 933.8l10.9 10.9-10.9 10.9-10.9-10.9zM1213 952.4l10.9 10.9-10.9 10.9-10.9-10.9zM1225 949l10.9 10.9-10.9 10.9-10.9-10.9zM1208.5 973.8l10.9 10.9-10.9 10.9-10.9-10.9zM1220.5 960.3l10.9 10.9-10.9 10.9-10.9-10.9zM1221.7 938.9l10.9 10.9-10.9 10.9-10.9-10.9zM1227.3 980.6l10.9 10.9-10.9 10.9-10.9-10.9zM1219.4 985.1l10.9 10.9-10.9 10.9-10.9-10.9zM1059 910.9l10.9 10.9-10.9 10.9-10.9-10.9zM1081.3 926.8l10.9 10.9-10.9 10.9-10.9-10.9zM1074.9 933.8l10.9 10.9-10.9 10.9-10.9-10.9zM1079.6 938.9l10.9 10.9-10.9 10.9-10.9-10.9zM1086.4 954.3l10.9 10.9-10.9 10.9-10.9-10.9zM1079.6 946.8l10.9 10.9-10.9 10.9-10.9-10.9zM1030 918.6l10.9 10.9-10.9 10.9-10.9-10.9zM1119.1 916.8l10.9 10.9-10.9 10.9-10.9-10.9zM1133.7 917.2l10.9 10.9-10.9 10.9-10.9-10.9zM1154.9 920.8l10.9 10.9-10.9 10.9-10.9-10.9zM1112.1 928.8l10.9 10.9-10.9 10.9-10.9-10.9zM1125.8 941.1l10.9 10.9-10.9 10.9-10.9-10.9zM1131.5 933.2l10.9 10.9-10.9 10.9-10.9-10.9zM1132.9 952.4l10.9 10.9-10.9 10.9-10.9-10.9zM1115.7 940l10.9 10.9-10.9 10.9-10.9-10.9zM1164.2 943.2l10.9 10.9-10.9 10.9-10.9-10.9zM1174 943.4l10.9 10.9-10.9 10.9-10.9-10.9zM1154 954.8l10.9 10.9-10.9 10.9-10.9-10.9zM1142.7 963.8l10.9 10.9-10.9 10.9-10.9-10.9zM1159.7 965.9l10.9 10.9-10.9 10.9-10.9-10.9zM1183 967.1l10.9 10.9-10.9 10.9-10.9-10.9zM1170.9 974.9l10.9 10.9-10.9 10.9-10.9-10.9zM1154 977.2l10.9 10.9-10.9 10.9-10.9-10.9zM1137.1 977.2l10.9 10.9-10.9 10.9-10.9-10.9zM1142.7 988.5l10.9 10.9-10.9 10.9-10.9-10.9zM1159.7 988.5l10.9 10.9-10.9 10.9-10.9-10.9zM1173.7 986.2l10.9 10.9-10.9 10.9-10.9-10.9zM1128.1 995.2l10.9 10.9-10.9 10.9-10.9-10.9zM1043 962.9l10.9 10.9-10.9 10.9-10.9-10.9zM1052.5 971.6l10.9 10.9-10.9 10.9-10.9-10.9zM1036.8 977.2l10.9 10.9-10.9 10.9-10.9-10.9zM1063.8 985.1l10.9 10.9-10.9 10.9-10.9-10.9zM1046.9 988.5l10.9 10.9-10.9 10.9-10.9-10.9zM1069.5 993l10.9 10.9-10.9 10.9-10.9-10.9zM1033.4 991.9l10.9 10.9-10.9 10.9-10.9-10.9zM1106.4 970.8l10.9 10.9-10.9 10.9-10.9-10.9zM1094.5 988.8l10.9 10.9-10.9 10.9-10.9-10.9zM1240.4 830.1l10.9 10.9-10.9 10.9-10.9-10.9zM1245.4 844.8l10.9 10.9-10.9 10.9-10.9-10.9zM1246.9 858.8l10.9 10.9-10.9 10.9-10.9-10.9zM1241.3 870.1l10.9 10.9-10.9 10.9-10.9-10.9zM1240.7 877.6l10.9 10.9-10.9 10.9-10.9-10.9zM1255.9 870.1l10.9 10.9-10.9 10.9-10.9-10.9zM1252.5 864.8l10.9 10.9-10.9 10.9-10.9-10.9zM1263.8 874.6l10.9 10.9-10.9 10.9-10.9-10.9zM1275.1 883.1l10.9 10.9-10.9 10.9-10.9-10.9zM1289.4 889.6l10.9 10.9-10.9 10.9-10.9-10.9zM1233.4 867.8l10.9 10.9-10.9 10.9-10.9-10.9zM1281.6 853.2l10.9 10.9-10.9 10.9-10.9-10.9zM1309.8 843.3l10.9 10.9-10.9 10.9-10.9-10.9zM1341.6 847.5l10.9 10.9-10.9 10.9-10.9-10.9zM1361.7 846.6l10.9 10.9-10.9 10.9-10.9-10.9zM1389.5 828l10.9 10.9-10.9 10.9-10.9-10.9zM1306.8 868.4l10.9 10.9-10.9 10.9-10.9-10.9zM1324.7 871.4l10.9 10.9-10.9 10.9-10.9-10.9zM1331.5 859.9l10.9 10.9-10.9 10.9-10.9-10.9zM1342.7 870.1l10.9 10.9-10.9 10.9-10.9-10.9zM1351.8 875.8l10.9 10.9-10.9 10.9-10.9-10.9zM1363.3 878.6l10.9 10.9-10.9 10.9-10.9-10.9zM1383.3 867.8l10.9 10.9-10.9 10.9-10.9-10.9zM1390.7 879.1l10.9 10.9-10.9 10.9-10.9-10.9zM1345.8 893.2l10.9 10.9-10.9 10.9-10.9-10.9zM1336 898.3l10.9 10.9-10.9 10.9-10.9-10.9zM1419.5 891l10.9 10.9-10.9 10.9-10.9-10.9zM1425.6 891.5l10.9 10.9-10.9 10.9-10.9-10.9zM1374.5 911.6l10.9 10.9-10.9 10.9-10.9-10.9zM1253.1 896.9l10.9 10.9-10.9 10.9-10.9-10.9zM1249.7 905.6l10.9 10.9-10.9 10.9-10.9-10.9zM1263.8 914.1l10.9 10.9-10.9 10.9-10.9-10.9zM1279.6 920.6l10.9 10.9-10.9 10.9-10.9-10.9zM1297.6 911.6l10.9 10.9-10.9 10.9-10.9-10.9zM1316.8 904.3l10.9 10.9-10.9 10.9-10.9-10.9zM1307.8 909.6l10.9 10.9-10.9 10.9-10.9-10.9zM1262.7 928.4l10.9 10.9-10.9 10.9-10.9-10.9zM1241.8 927.9l10.9 10.9-10.9 10.9-10.9-10.9zM1235.3 941.1l10.9 10.9-10.9 10.9-10.9-10.9zM1332.6 925l10.9 10.9-10.9 10.9-10.9-10.9zM1331.8 918.6l10.9 10.9-10.9 10.9-10.9-10.9zM1357.6 929.8l10.9 10.9-10.9 10.9-10.9-10.9zM1369.8 936l10.9 10.9-10.9 10.9-10.9-10.9zM1389 941.1l10.9 10.9-10.9 10.9-10.9-10.9zM1401.4 933.2l10.9 10.9-10.9 10.9-10.9-10.9zM1411.5 930.4l10.9 10.9-10.9 10.9-10.9-10.9zM1379.9 937.8l10.9 10.9-10.9 10.9-10.9-10.9zM1251.4 959.4l10.9 10.9-10.9 10.9-10.9-10.9zM1301 950.5l10.9 10.9-10.9 10.9-10.9-10.9zM1307.5 951.3l10.9 10.9-10.9 10.9-10.9-10.9zM1288.6 960.3l10.9 10.9-10.9 10.9-10.9-10.9zM1278.3 969.9l10.9 10.9-10.9 10.9-10.9-10.9zM1293.1 971.6l10.9 10.9-10.9 10.9-10.9-10.9zM1303.3 977.2l10.9 10.9-10.9 10.9-10.9-10.9zM1286.4 982.8l10.9 10.9-10.9 10.9-10.9-10.9zM1299.9 988.5l10.9 10.9-10.9 10.9-10.9-10.9zM1308.9 991.9l10.9 10.9-10.9 10.9-10.9-10.9zM1258.4 983.4l10.9 10.9-10.9 10.9-10.9-10.9zM1331.5 962.8l10.9 10.9-10.9 10.9-10.9-10.9zM1359.7 970.2l10.9 10.9-10.9 10.9-10.9-10.9zM1375.4 980.6l10.9 10.9-10.9 10.9-10.9-10.9zM1353.8 987.3l10.9 10.9-10.9 10.9-10.9-10.9zM1365.3 988.5l10.9 10.9-10.9 10.9-10.9-10.9zM1382.2 991.9l10.9 10.9-10.9 10.9-10.9-10.9zM1395.2 985.4l10.9 10.9-10.9 10.9-10.9-10.9zM1399.1 988.5l10.9 10.9-10.9 10.9-10.9-10.9zM1420.8 981.4l10.9 10.9-10.9 10.9-10.9-10.9zM817.7 1103.8l10.9 10.9-10.9 10.9-10.9-10.9zM810.4 1143.8l10.9 10.9-10.9 10.9-10.9-10.9zM842.2 1110.8l10.9 10.9-10.9 10.9-10.9-10.9zM860.2 1153.2l10.9 10.9-10.9 10.9-10.9-10.9zM904.4 1028.8l10.9 10.9-10.9 10.9-10.9-10.9zM915.7 1040.1l10.9 10.9-10.9 10.9-10.9-10.9zM923.6 1049.1l10.9 10.9-10.9 10.9-10.9-10.9zM903.3 995l10.9 10.9-10.9 10.9-10.9-10.9zM908.9 1001.8l10.9 10.9-10.9 10.9-10.9-10.9zM937.1 999.5l10.9 10.9-10.9 10.9-10.9-10.9zM954 1000.6l10.9 10.9-10.9 10.9-10.9-10.9zM959.7 995l10.9 10.9-10.9 10.9-10.9-10.9zM987.8 998.4l10.9 10.9-10.9 10.9-10.9-10.9zM1010.4 999.5l10.9 10.9-10.9 10.9-10.9-10.9zM908.9 1015.3l10.9 10.9-10.9 10.9-10.9-10.9zM920.2 1024.3l10.9 10.9-10.9 10.9-10.9-10.9zM942.7 1014.2l10.9 10.9-10.9 10.9-10.9-10.9zM948.4 1008.5l10.9 10.9-10.9 10.9-10.9-10.9zM931.5 1032.2l10.9 10.9-10.9 10.9-10.9-10.9zM917.9 1032.2l10.9 10.9-10.9 10.9-10.9-10.9zM931.5 1045.8l10.9 10.9-10.9 10.9-10.9-10.9zM909.3 1060.5l10.9 10.9-10.9 10.9-10.9-10.9zM922.4 1051.5l10.9 10.9-10.9 10.9-10.9-10.9zM935.6 1059.8l10.9 10.9-10.9 10.9-10.9-10.9zM934.6 1073l10.9 10.9-10.9 10.9-10.9-10.9zM944.4 1095.1l10.9 10.9-10.9 10.9-10.9-10.9zM973.2 1036.8l10.9 10.9-10.9 10.9-10.9-10.9zM957.7 1043.5l10.9 10.9-10.9 10.9-10.9-10.9zM993.5 1043.3l10.9 10.9-10.9 10.9-10.9-10.9zM959.7 1006.3l10.9 10.9-10.9 10.9-10.9-10.9zM970.9 1001.8l10.9 10.9-10.9 10.9-10.9-10.9zM979.9 1009.3l10.9 10.9-10.9 10.9-10.9-10.9zM990.1 998.4l10.9 10.9-10.9 10.9-10.9-10.9zM1014.9 1028.8l10.9 10.9-10.9 10.9-10.9-10.9zM1026.2 1023.2l10.9 10.9-10.9 10.9-10.9-10.9zM1021.7 1040.1l10.9 10.9-10.9 10.9-10.9-10.9zM1010.4 1042.5l10.9 10.9-10.9 10.9-10.9-10.9zM965.3 1051.5l10.9 10.9-10.9 10.9-10.9-10.9zM982.2 1049.1l10.9 10.9-10.9 10.9-10.9-10.9zM1006.7 1062.6l10.9 10.9-10.9 10.9-10.9-10.9zM976.6 1062.6l10.9 10.9-10.9 10.9-10.9-10.9zM975.8 1075.6l10.9 10.9-10.9 10.9-10.9-10.9zM999.3 1083l10.9 10.9-10.9 10.9-10.9-10.9zM987.8 1094.2l10.9 10.9-10.9 10.9-10.9-10.9zM969.6 1098.8l10.9 10.9-10.9 10.9-10.9-10.9zM982.2 1102.1l10.9 10.9-10.9 10.9-10.9-10.9zM976.6 1113.5l10.9 10.9-10.9 10.9-10.9-10.9zM1010.4 1104.1l10.9 10.9-10.9 10.9-10.9-10.9zM1021.7 1113.5l10.9 10.9-10.9 10.9-10.9-10.9zM1027.3 1124.8l10.9 10.9-10.9 10.9-10.9-10.9zM956.6 1122.8l10.9 10.9-10.9 10.9-10.9-10.9zM951.5 1134.8l10.9 10.9-10.9 10.9-10.9-10.9zM965.3 1130.3l10.9 10.9-10.9 10.9-10.9-10.9zM976.6 1122.5l10.9 10.9-10.9 10.9-10.9-10.9zM970.9 1138.2l10.9 10.9-10.9 10.9-10.9-10.9zM948.4 1150.6l10.9 10.9-10.9 10.9-10.9-10.9zM965.3 1152.8l10.9 10.9-10.9 10.9-10.9-10.9zM973.2 1148.3l10.9 10.9-10.9 10.9-10.9-10.9zM993.5 1134l10.9 10.9-10.9 10.9-10.9-10.9zM1016 1130.3l10.9 10.9-10.9 10.9-10.9-10.9zM1023.9 1141.6l10.9 10.9-10.9 10.9-10.9-10.9zM1016 1152.8l10.9 10.9-10.9 10.9-10.9-10.9zM987.8 1158.5l10.9 10.9-10.9 10.9-10.9-10.9zM1001.4 1162l10.9 10.9-10.9 10.9-10.9-10.9zM905.8 1155.3l10.9 10.9-10.9 10.9-10.9-10.9zM925.3 1152.3l10.9 10.9-10.9 10.9-10.9-10.9zM920.2 1162l10.9 10.9-10.9 10.9-10.9-10.9zM937.1 1158.5l10.9 10.9-10.9 10.9-10.9-10.9zM936 1164.1l10.9 10.9-10.9 10.9-10.9-10.9zM1021.7 1162l10.9 10.9-10.9 10.9-10.9-10.9zM942.7 1112.2l10.9 10.9-10.9 10.9-10.9-10.9zM1209.6 1152l10.9 10.9-10.9 10.9-10.9-10.9zM1220.9 1153l10.9 10.9-10.9 10.9-10.9-10.9zM1259.9 1012.5l10.9 10.9-10.9 10.9-10.9-10.9zM1271.7 1019.2l10.9 10.9-10.9 10.9-10.9-10.9zM1248 1025.5l10.9 10.9-10.9 10.9-10.9-10.9zM1236.8 1033.3l10.9 10.9-10.9 10.9-10.9-10.9zM1241.3 1041l10.9 10.9-10.9 10.9-10.9-10.9zM1230 1027.8l10.9 10.9-10.9 10.9-10.9-10.9zM1260.2 1049.8l10.9 10.9-10.9 10.9-10.9-10.9zM1281.6 1042.5l10.9 10.9-10.9 10.9-10.9-10.9zM1286.4 1067l10.9 10.9-10.9 10.9-10.9-10.9zM1299.1 1001.8l10.9 10.9-10.9 10.9-10.9-10.9zM1311.2 1009.8l10.9 10.9-10.9 10.9-10.9-10.9zM1323.6 1004l10.9 10.9-10.9 10.9-10.9-10.9zM1343.6 1002.6l10.9 10.9-10.9 10.9-10.9-10.9zM1373.7 993l10.9 10.9-10.9 10.9-10.9-10.9zM1309.8 1030l10.9 10.9-10.9 10.9-10.9-10.9zM1320.2 1037.8l10.9 10.9-10.9 10.9-10.9-10.9zM1329.2 1043l10.9 10.9-10.9 10.9-10.9-10.9zM1310.6 1017.5l10.9 10.9-10.9 10.9-10.9-10.9zM1378.6 1029.5l10.9 10.9-10.9 10.9-10.9-10.9zM1289.8 1102.1l10.9 10.9-10.9 10.9-10.9-10.9zM1306.7 1116.8l10.9 10.9-10.9 10.9-10.9-10.9zM1373.4 1116.2l10.9 10.9-10.9 10.9-10.9-10.9zM1254.5 1149.1l10.9 10.9-10.9 10.9-10.9-10.9zM865.9 1204.1l10.9 10.9-10.9 10.9-10.9-10.9zM959.1 1163l10.9 10.9-10.9 10.9-10.9-10.9zM938.5 1180.2l10.9 10.9-10.9 10.9-10.9-10.9zM927.9 1192.1l10.9 10.9-10.9 10.9-10.9-10.9zM951.4 1204.2l10.9 10.9-10.9 10.9-10.9-10.9zM938.2 1198.8l10.9 10.9-10.9 10.9-10.9-10.9zM917.7 1217l10.9 10.9-10.9 10.9-10.9-10.9zM923.6 1207.8l10.9 10.9-10.9 10.9-10.9-10.9zM922.4 1225.5l10.9 10.9-10.9 10.9-10.9-10.9zM937.3 1223.3l10.9 10.9-10.9 10.9-10.9-10.9zM920.5 1250.5l10.9 10.9-10.9 10.9-10.9-10.9zM954 1271l10.9 10.9-10.9 10.9-10.9-10.9zM959.7 1279.5l10.9 10.9-10.9 10.9-10.9-10.9zM999.1 1171.8l10.9 10.9-10.9 10.9-10.9-10.9zM1010.4 1165l10.9 10.9-10.9 10.9-10.9-10.9zM1021.7 1170.6l10.9 10.9-10.9 10.9-10.9-10.9zM1027.3 1182l10.9 10.9-10.9 10.9-10.9-10.9zM977.4 1194l10.9 10.9-10.9 10.9-10.9-10.9zM991.2 1201l10.9 10.9-10.9 10.9-10.9-10.9zM980.8 1214.6l10.9 10.9-10.9 10.9-10.9-10.9zM1014.9 1198.8l10.9 10.9-10.9 10.9-10.9-10.9zM1026.2 1198.8l10.9 10.9-10.9 10.9-10.9-10.9zM982 1238.3l10.9 10.9-10.9 10.9-10.9-10.9zM992.3 1232.6l10.9 10.9-10.9 10.9-10.9-10.9zM981.9 1256.8l10.9 10.9-10.9 10.9-10.9-10.9zM993.5 1247.3l10.9 10.9-10.9 10.9-10.9-10.9zM1005.9 1244.5l10.9 10.9-10.9 10.9-10.9-10.9zM1019.4 1239.5l10.9 10.9-10.9 10.9-10.9-10.9zM1027.3 1232.6l10.9 10.9-10.9 10.9-10.9-10.9zM1017.1 1226l10.9 10.9-10.9 10.9-10.9-10.9zM1021.7 1212.5l10.9 10.9-10.9 10.9-10.9-10.9zM997.4 1293.2l10.9 10.9-10.9 10.9-10.9-10.9zM1009.3 1281.8l10.9 10.9-10.9 10.9-10.9-10.9zM1017.1 1290.1l10.9 10.9-10.9 10.9-10.9-10.9zM1027.3 1280l10.9 10.9-10.9 10.9-10.9-10.9zM1030 1290.1l10.9 10.9-10.9 10.9-10.9-10.9zM1081.3 1282.8l10.9 10.9-10.9 10.9-10.9-10.9zM1077.6 1289.5l10.9 10.9-10.9 10.9-10.9-10.9zM1039 1301.8l10.9 10.9-10.9 10.9-10.9-10.9zM1057.4 1315.8l10.9 10.9-10.9 10.9-10.9-10.9zM1044.7 1306l10.9 10.9-10.9 10.9-10.9-10.9zM1033.4 1306l10.9 10.9-10.9 10.9-10.9-10.9zM1214.9 1229.3l10.9 10.9-10.9 10.9-10.9-10.9zM1214.3 1259l10.9 10.9-10.9 10.9-10.9-10.9zM1211.8 1273.2l10.9 10.9-10.9 10.9-10.9-10.9zM1210.9 1283.6l10.9 10.9-10.9 10.9-10.9-10.9zM1238.5 1180.8l10.9 10.9-10.9 10.9-10.9-10.9zM1280.5 1189.8l10.9 10.9-10.9 10.9-10.9-10.9zM1266.4 1205.2l10.9 10.9-10.9 10.9-10.9-10.9zM1292.9 1224.5l10.9 10.9-10.9 10.9-10.9-10.9zM1258.2 1234.6l10.9 10.9-10.9 10.9-10.9-10.9zM1259.3 1253l10.9 10.9-10.9 10.9-10.9-10.9zM851.6 953l10.9 10.9-10.9 10.9-10.9-10.9zM837.2 964.4l10.9 10.9-10.9 10.9-10.9-10.9zM852.9 966.9l10.9 10.9-10.9 10.9-10.9-10.9zM818.6 971.6l10.9 10.9-10.9 10.9-10.9-10.9zM796.6 966.1l10.9 10.9-10.9 10.9-10.9-10.9zM847.4 986.4l10.9 10.9-10.9 10.9-10.9-10.9zM779.2 978.4l10.9 10.9-10.9 10.9-10.9-10.9zM772 986.4l10.9 10.9-10.9 10.9-10.9-10.9zM764.4 993.2l10.9 10.9-10.9 10.9-10.9-10.9zM755.9 998.3l10.9 10.9-10.9 10.9-10.9-10.9zM796.6 989.4l10.9 10.9-10.9 10.9-10.9-10.9zM809.3 981.3l10.9 10.9-10.9 10.9-10.9-10.9zM809.3 998.3l10.9 10.9-10.9 10.9-10.9-10.9zM822.4 1000l10.9 10.9-10.9 10.9-10.9-10.9zM823.2 1006.8l10.9 10.9-10.9 10.9-10.9-10.9zM815.6 1005.9l10.9 10.9-10.9 10.9-10.9-10.9zM784.3 1014l10.9 10.9-10.9 10.9-10.9-10.9zM796.1 1005.9l10.9 10.9-10.9 10.9-10.9-10.9zM763.4 1022.8l10.9 10.9-10.9 10.9-10.9-10.9zM802.1 1047l10.9 10.9-10.9 10.9-10.9-10.9zM817.7 1040.2l10.9 10.9-10.9 10.9-10.9-10.9zM834.7 1042.8l10.9 10.9-10.9 10.9-10.9-10.9zM856.2 1031.8l10.9 10.9-10.9 10.9-10.9-10.9zM849.9 1047.5l10.9 10.9-10.9 10.9-10.9-10.9zM858.4 1051.6l10.9 10.9-10.9 10.9-10.9-10.9zM851.6 1050.8l10.9 10.9-10.9 10.9-10.9-10.9zM838.9 1049.1l10.9 10.9-10.9 10.9-10.9-10.9zM884.2 1040.2l10.9 10.9-10.9 10.9-10.9-10.9zM875.3 1064.3l10.9 10.9-10.9 10.9-10.9-10.9zM756.8 1065.6l10.9 10.9-10.9 10.9-10.9-10.9zM875.7 997.4l10.9 10.9-10.9 10.9-10.9-10.9zM882.1 1008l10.9 10.9-10.9 10.9-10.9-10.9zM892.2 1015.2l10.9 10.9-10.9 10.9-10.9-10.9zM898.1 1023.8l10.9 10.9-10.9 10.9-10.9-10.9zM880.8 963.6l10.9 10.9-10.9 10.9-10.9-10.9zM884.6 950l10.9 10.9-10.9 10.9-10.9-10.9zM893.9 941.5l10.9 10.9-10.9 10.9-10.9-10.9zM893.9 955.9l10.9 10.9-10.9 10.9-10.9-10.9zM888.8 964.4l10.9 10.9-10.9 10.9-10.9-10.9z"/>
<path fill="#d95f02" stroke="#d95f02" stroke-width="1.6" stroke-linejoin="round" d="M1076.3 592.5l9.6 19.4h-19.2zM1118.9 633.2l9.6 19.4h-19.2zM935.1 653.2l9.6 19.4h-19.2zM947.8 660.3l9.6 19.4h-19.2zM1003.1 655.2l9.6 19.4h-19.2zM1151 657.9l9.6 19.4h-19.2zM1075.1 674.3l9.6 19.4h-19.2zM1067.3 686.5l9.6 19.4h-19.2zM1198.5 686.1l9.6 19.4h-19.2zM930.8 684.4l9.6 19.4h-19.2zM999.8 701l9.6 19.4h-19.2zM1030.6 698.8l9.6 19.4h-19.2zM1039.1 709.3l9.6 19.4h-19.2zM1139.7 711.8l9.6 19.4h-19.2zM974.3 724.5l9.6 19.4h-19.2zM1118 731.8l9.6 19.4h-19.2zM1116 741.1l9.6 19.4h-19.2zM1080.2 738.1l9.6 19.4h-19.2zM1092.3 744l9.6 19.4h-19.2zM1160.8 735.9l9.6 19.4h-19.2zM1169.8 731.3l9.6 19.4h-19.2zM1042.5 745.8l9.6 19.4h-19.2zM1138.9 749.6l9.6 19.4h-19.2zM966.9 752.8l9.6 19.4h-19.2zM999.8 761.7l9.6 19.4h-19.2zM957.4 766.1l9.6 19.4h-19.2zM957.9 783l9.6 19.4h-19.2zM1173.4 846.4l9.6 19.4h-19.2zM1001.9 1147.7l9.6 19.4h-19.2zM1065.5 1064.8l9.6 19.4h-19.2zM1076.2 1140.8l9.6 19.4h-19.2zM1166.4 1143.8l9.6 19.4h-19.2zM1150.1 1158.8l9.6 19.4h-19.2zM1025.6 1217.4l9.6 19.4h-19.2zM999.3 1274.3l9.6 19.4h-19.2zM985 1303.6l9.6 19.4h-19.2zM1062.9 1174.2l9.6 19.4h-19.2zM1153.1 1185.7l9.6 19.4h-19.2zM1154 1196.1l9.6 19.4h-19.2zM1037.3 1218.7l9.6 19.4h-19.2zM1123 1215.3l9.6 19.4h-19.2zM1114 1227.2l9.6 19.4h-19.2zM1081.9 1265.7l9.6 19.4h-19.2zM1095.4 1265.7l9.6 19.4h-19.2zM1079.6 1326.4l9.6 19.4h-19.2z"/>
</g>
<path d="M208.4 1375.45v12.6M425.1 1375.45v12.6M641.9 1375.45v12.6M858.6 1375.45v12.6M1075.3 1375.45v12.6M1292 1375.45v12.6M1508.7 1375.45v12.6M1725.5 1375.45v12.6M192.5 1276.5h-13.2M192.5 1114.5h-13.2M192.5 952.5h-13.2M192.5 790.5h-13.2M192.5 628.5h-13.2M192.5 466.5h-13.2M192.5 304.5h-13.2M192.5 142.5h-13.2" stroke="#000" stroke-width="2.93" fill="none"/>
<rect x="192.5" y="84.5" width="1571.05" height="1290.95" fill="none" stroke="#000" stroke-width="2.93"/>
<g font-family="'DejaVu Sans','Liberation Sans',sans-serif" fill="#000">
<g font-size="36.4" text-anchor="middle">
<text x="208.4" y="1429">−8</text>
<text x="425.1" y="1429">−6</text>
<text x="641.9" y="1429">−4</text>
<text x="858.6" y="1429">−2</text>
<text x="1075.3" y="1429">0</text>
<text x="1292" y="1429">2</text>
<text x="1508.7" y="1429">4</text>
<text x="1725.5" y="1429">6</text>
</g><g font-size="36.4" text-anchor="end">
<text x="166.5" y="1290.5">−5.0</text>
<text x="166.5" y="1128.5">−2.5</text>
<text x="166.5" y="966.5">0.0</text>
<text x="166.5" y="804.5">2.5</text>
<text x="166.5" y="642.5">5.0</text>
<text x="166.5" y="480.5">7.5</text>
<text x="166.5" y="318.5">10.0</text>
<text x="166.5" y="156.5">12.5</text>
</g>
<text x="978" y="63.2" font-size="65.4" text-anchor="middle">Training Dataset</text>
<text x="977.6" y="1494.9" font-size="57.9" text-anchor="middle">x1</text>
<text transform="translate(53 732.6) rotate(-90)" font-size="57.9" text-anchor="middle">x2</text>
<rect x="1060.7" y="106.7" width="680.1" height="205.1" rx="8.5" fill="#fff" fill-opacity="0.8" stroke="#cfcfcf" stroke-width="3.3"/>
<circle cx="1121.9" cy="145.7" r="10" fill="#1b9e77"/>
<path fill="#7570b3" stroke="#7570b3" stroke-width="3.66" stroke-linejoin="round" d="M1121.9 199.2l10.95 10.95-10.95 10.95-10.95-10.95z"/>
<path fill="#d95f02" stroke="#d95f02" stroke-width="1.6" stroke-linejoin="round" d="M1121.9 264.6l9.6 19.4h-19.2z"/>
<g font-size="43.65">
<text x="1200" y="157.6">Train Normal (+1)</text>
<text x="1200" y="221.6">Train Unlabeled (0)</text>
<text x="1200" y="285.9">Train Labeled Anom (-1)</text>
</g></g>
</svg></body></html>
